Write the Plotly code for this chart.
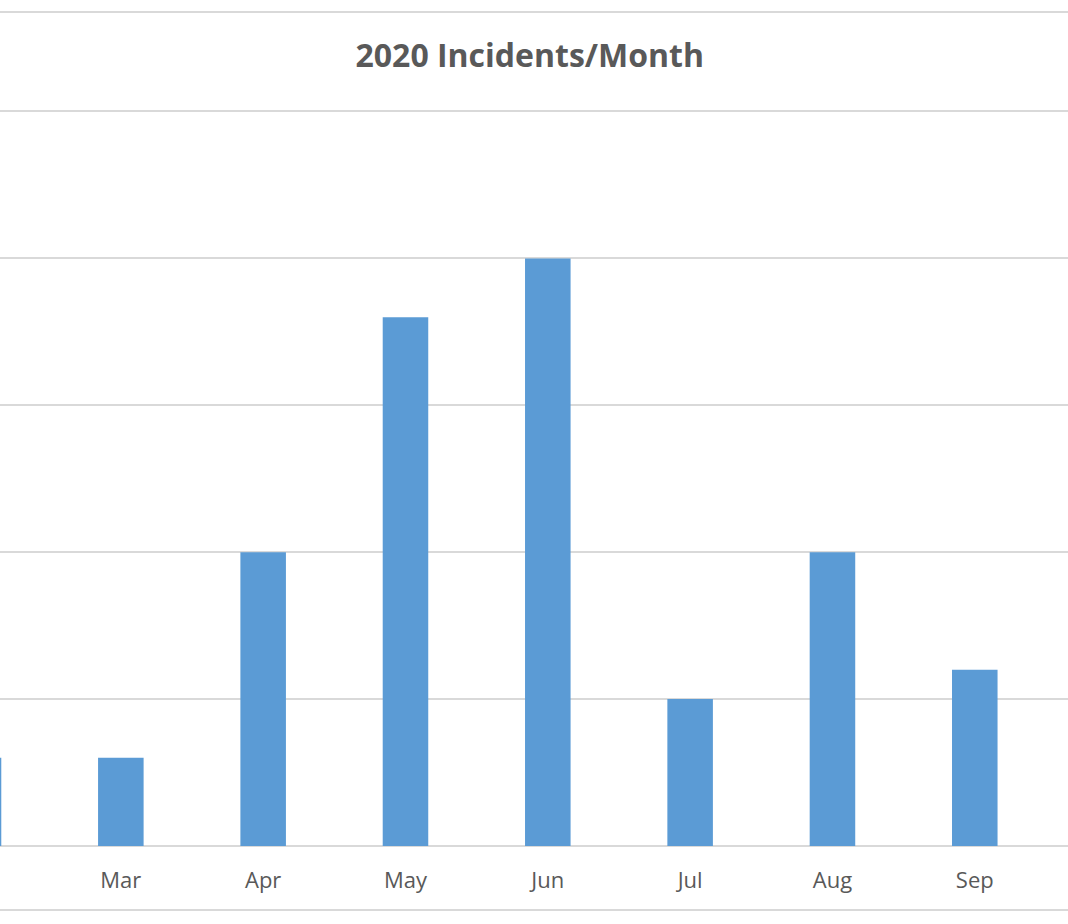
import plotly.graph_objects as go

# visible part of the chart: Feb (cut at left edge) to Sep
months = ["Feb", "Mar", "Apr", "May", "Jun", "Jul", "Aug", "Sep"]
incidents = [3, 3, 10, 18, 20, 5, 10, 6]

BAR_COLOR = "#5B9BD5"
GRID_COLOR = "#D9D9D9"
TEXT_COLOR = "#595959"

W, H = 1068, 924
PLOT_TOP, PLOT_BOTTOM = 110, 846

fig = go.Figure()
fig.add_trace(
    go.Bar(
        x=months,
        y=incidents,
        marker_color=BAR_COLOR,
        marker_line_width=0,
    )
)

fig.update_layout(
    width=W,
    height=H,
    margin=dict(l=0, r=0, t=PLOT_TOP, b=H - PLOT_BOTTOM),
    paper_bgcolor="white",
    plot_bgcolor="white",
    bargap=0.68,
    showlegend=False,
    title=dict(
        text="2020 Incidents/Month",
        x=0.496,
        xanchor="center",
        y=1 - 56 / H,
        yanchor="middle",
        yref="container",
        font=dict(family="Open Sans", size=32, color=TEXT_COLOR, weight="bold"),
    ),
)

fig.update_xaxes(
    range=[0.151, 7.655],
    showgrid=False,
    showline=False,
    ticks="",
    ticklabelstandoff=19,
    tickfont=dict(family="Open Sans", size=22, color=TEXT_COLOR),
)
fig.update_yaxes(
    range=[0, 25.05],
    dtick=5,
    showticklabels=False,
    gridcolor=GRID_COLOR,
    gridwidth=2,
    zeroline=True,
    zerolinecolor=GRID_COLOR,
    zerolinewidth=2,
)

# chart-area border lines above the title and below the labels
plot_h = PLOT_BOTTOM - PLOT_TOP
for py in (12, 910):
    yp = (PLOT_BOTTOM - py) / plot_h
    fig.add_shape(
        type="line", xref="paper", yref="paper",
        x0=0, x1=1, y0=yp, y1=yp,
        line=dict(color=GRID_COLOR, width=2),
    )

fig.write_html(
    "out.html",
    config={"displayModeBar": False},
    post_script="document.body.style.margin='0';",
)
